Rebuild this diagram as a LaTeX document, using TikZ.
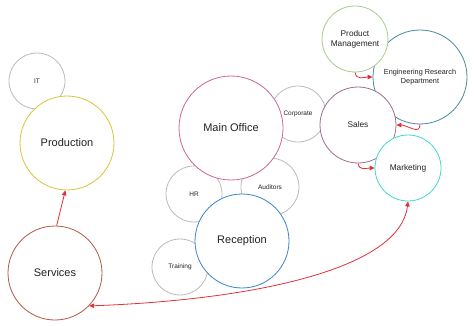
\documentclass[tikz,border=0pt]{standalone}
\usepackage{fontspec}
\setmainfont{Liberation Sans}
\usetikzlibrary{arrows.meta}
\definecolor{txt}{HTML}{222222}
\definecolor{grayc}{HTML}{BBBBBB}
\definecolor{prodc}{HTML}{D8C53A}
\definecolor{servc}{HTML}{B4584A}
\definecolor{mainc}{HTML}{CC6699}
\definecolor{recc}{HTML}{3A86C8}
\definecolor{pmc}{HTML}{A8CC8C}
\definecolor{engc}{HTML}{4A8AA0}
\definecolor{salesc}{HTML}{9A7090}
\definecolor{mktc}{HTML}{40D8D8}
\definecolor{arrc}{HTML}{E0303A}
\tikzset{
  bub/.style={circle, draw, fill=white, line width=0.8pt, inner sep=0pt, text=txt, align=center},
  big/.style={bub, font=\fontsize{11}{13}\selectfont},
  mid/.style={bub, font=\fontsize{8.3}{10}\selectfont},
  sml/.style={bub, draw=grayc, font=\fontsize{6.5}{8}\selectfont},
  arr/.style={draw=arrc, line width=0.8pt, -{Triangle[length=5pt,width=4.5pt]}, arrc},
  darr/.style={draw=arrc, line width=0.8pt, {Triangle[length=5pt,width=4.5pt]}-{Triangle[length=5pt,width=4.5pt]}, arrc}
}
\begin{document}
\begin{tikzpicture}[x=1pt,y=-1pt]
\useasboundingbox (0,0) rectangle (474,326);
% small gray circles
\node[sml, minimum size=56pt] (it) at (37,81) {IT};
\node[sml, minimum size=56pt] (corp) at (298,114) {Corporate};
\node[sml, minimum size=56pt] (hr) at (194,194) {HR};
\node[sml, minimum size=58pt] (aud) at (270,187) {Auditors};
\node[sml, minimum size=56pt] (train) at (180,267) {Training};
% large circles
\node[big, draw=prodc, minimum size=94pt] (prod) at (67,143) {Production};
\node[big, draw=servc, minimum size=94pt] (serv) at (55,273) {Services};
\node[big, draw=mainc, minimum size=104pt] (main) at (231,128) {Main Office};
\node[big, draw=recc, minimum size=94pt] (rec) at (242,241) {Reception};
\node[mid, draw=engc, minimum size=94pt, font=\fontsize{7.3}{9}\selectfont] (eng) at (420,77) {Engineering Research\\Department};
\node[mid, draw=pmc, minimum size=66pt] (pm) at (355,39) {Product\\Management};
\node[mid, draw=salesc, minimum size=76pt] (sales) at (358,125) {Sales};
\node[mid, draw=mktc, minimum size=66pt] (mkt) at (408,168) {Marketing};
% arrows
\draw[arr] (serv.88) -- (prod.-92);
\draw[darr] (serv.-44) .. controls (250,300) and (400,270) .. (mkt.south);
\draw[arr] (pm.-90) to[out=-80,in=180,looseness=1.2] (eng.180);
\draw[arr] (eng.-90) to[out=-90,in=0,looseness=1.2] (sales.0);
\draw[arr] (sales.-90) to[out=-80,in=180,looseness=1.2] (mkt.180);
\end{tikzpicture}
\end{document}
